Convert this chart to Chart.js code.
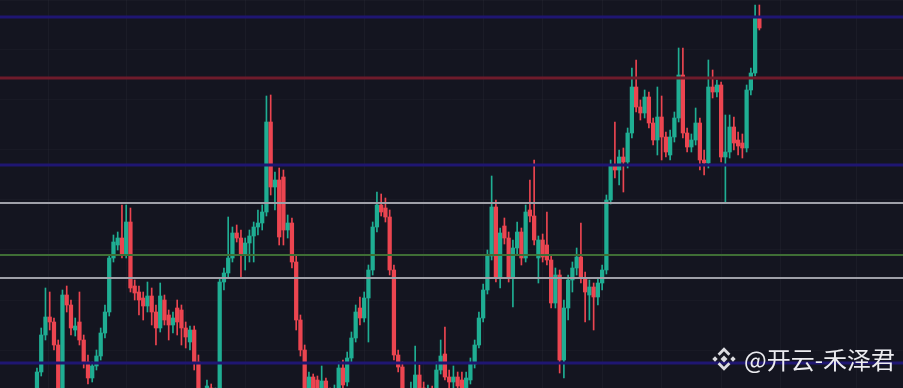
<!DOCTYPE html>
<html>
<head>
<meta charset="utf-8">
<script src="https://cdn.jsdelivr.net/npm/chart.js@4.4.1/dist/chart.umd.min.js"></script>
<style>
  html, body { margin: 0; padding: 0; background: #141520; }
  #wrap { position: relative; width: 903px; height: 388px; overflow: hidden; }
  #mark { position: absolute; left: 710px; top: 345px; display: flex; align-items: center;
          color: #ececf0; font-family: "Noto Sans CJK SC", "Noto Sans", sans-serif; font-size: 24px; line-height: 28px; }
  #mark svg { width: 28px; height: 28px; margin-right: 6px; }
</style>
</head>
<body>
<div id="wrap">
  <canvas id="chart" width="903" height="388"></canvas>
  <div id="mark">
    <svg viewBox="0 0 24 24"><g fill="#dcdce0">
      <polygon points="12,9 15,12 12,15 9,12"/>
      <polygon points="12,2 17.5,7.5 15.8,9.2 12,5.4 8.2,9.2 6.5,7.5"/>
      <polygon points="12,22 17.5,16.5 15.8,14.8 12,18.6 8.2,14.8 6.5,16.5"/>
      <polygon points="2,12 4.3,9.7 6.6,12 4.3,14.3"/>
      <polygon points="22,12 19.7,9.7 17.4,12 19.7,14.3"/>
    </g></svg>
    <span>@开云-禾泽君</span>
  </div>
</div>
<script>
// ---------- candle data (price units, oldest first) ----------
const open = [
  5,28,65,83,78,55,10,105,95,70,
  78,60,38,22,34,44,67,88,142,155,
  162,145,178,114,108,102,94,104,88,72,
  100,85,75,92,90,72,58,70,38,5,
  -5,12,0,2,118,127,142,167,162,145,
  157,164,173,177,188,278,213,220,223,170,
  177,138,80,50,2,23,20,4,19,8,
  -5,8,32,18,42,62,92,82,102,130,
  173,195,192,183,130,45,33,5,-2,10,
  25,12,0,10,8,30,46,23,18,23,
  20,12,20,36,55,82,110,144,193,123,
  174,162,123,152,168,142,190,184,142,160,
  155,140,97,125,40,92,120,132,143,122,
  105,113,103,117,130,200,234,230,243,238,
  267,313,293,287,303,277,260,283,263,245,
  263,282,325,267,253,260,277,240,237,313,
  308,315,243,248,273,260,257,252,310,327,382
];
const high = [
  32,72,112,108,82,60,110,114,100,82,
  108,65,45,38,50,72,95,145,165,168,
  195,195,192,120,114,108,118,112,95,117,
  105,90,88,100,95,78,74,74,45,10,
  20,16,12,122,132,183,173,175,170,162,
  170,178,190,195,304,305,228,232,230,185,
  182,145,85,55,28,26,24,34,22,12,
  15,38,40,48,68,95,103,108,135,178,
  208,206,202,190,135,50,38,10,18,54,
  35,18,15,14,38,60,73,30,34,28,
  28,28,42,60,88,116,150,224,200,172,
  182,168,160,178,172,195,220,240,164,166,
  188,145,132,130,100,125,138,152,177,128,
  120,117,122,135,205,240,278,250,252,272,
  332,340,300,310,308,282,313,304,268,270,
  288,352,352,272,266,292,282,250,340,330,
  320,318,285,285,283,268,266,315,332,395,395
];
const low = [
  0,24,60,70,50,2,8,88,65,64,
  55,32,16,18,30,40,62,84,138,150,
  142,142,108,100,85,80,88,75,55,68,
  75,60,67,65,55,52,50,30,0,-18,
  -10,-5,-8,0,110,122,138,158,123,130,
  138,138,165,170,184,205,190,155,155,162,
  132,70,44,2,-5,2,-2,-2,0,-15,
  -10,4,10,14,38,58,75,78,58,125,
  168,184,178,125,40,28,-2,-12,-10,5,
  2,-8,-6,-10,2,26,20,8,12,8,
  2,5,16,32,52,78,106,140,118,112,
  156,118,93,146,135,138,178,155,117,138,
  135,92,92,27,22,80,108,125,117,78,
  80,70,95,110,126,196,222,215,208,232,
  262,288,280,282,272,255,245,240,243,240,
  258,278,262,248,248,255,230,225,232,302,
  303,238,197,242,250,245,242,248,305,324,370
];
const close = [
  28,65,83,78,55,8,105,95,72,74,
  60,38,22,34,44,67,88,142,158,162,
  145,178,112,107,100,94,104,88,72,104,
  80,75,82,78,72,63,70,38,5,-10,
  14,0,8,118,127,142,167,162,145,157,
  164,173,177,188,278,213,220,163,170,177,
  138,80,50,8,23,8,4,19,5,-10,
  8,32,15,42,62,88,82,102,130,173,
  195,188,183,130,45,33,5,-5,10,25,
  8,0,10,-2,30,44,23,18,23,14,
  12,22,36,55,82,110,144,193,123,167,
  162,123,152,168,142,188,184,160,160,143,
  140,97,125,40,92,120,132,143,122,108,
  113,103,117,130,200,234,230,243,238,267,
  313,293,287,303,277,260,283,263,248,263,
  282,325,267,253,260,277,240,237,313,308,
  315,243,248,273,257,254,252,310,327,382,372
];

// horizontal drawing levels
const blueLevels = [383, 235, 37];
const redLevels = [322];
const greyLevels = [197, 122];
const greenLevels = [145];

const X_MIN = -8.7, X_MAX = 203.8;
const UP = "#1fae93", DOWN = "#ec4550";

const colors = open.map((o, i) => (close[i] >= o ? UP : DOWN));

const wickData = open.map((o, i) => ({ x: i, y: [low[i], high[i]] }));
const bodyData = open.map((o, i) => ({ x: i, y: [o, close[i]] }));

function levelLines(levels, color, width) {
  return levels.map(v => ({
    type: "line",
    data: [{ x: X_MIN, y: v }, { x: X_MAX, y: v }],
    borderColor: color,
    borderWidth: width,
    pointRadius: 0,
    order: 0
  }));
}

new Chart(document.getElementById("chart"), {
  type: "bar",
  data: {
    datasets: [
      ...levelLines(blueLevels, "#1f1672", 3),
      ...levelLines(redLevels, "#6e1b2b", 3),
      ...levelLines(greyLevels, "#9fa0a8", 2),
      ...levelLines(greenLevels, "#3f6e35", 2),
      { data: bodyData, backgroundColor: colors, barThickness: 3.6, minBarLength: 1, grouped: false, order: 1 },
      { data: wickData, backgroundColor: colors, barThickness: 1, grouped: false, order: 2 }
    ]
  },
  options: {
    responsive: false,
    animation: false,
    layout: { padding: 0 },
    plugins: { legend: { display: false }, tooltip: { enabled: false } },
    scales: {
      x: {
        type: "linear", min: X_MIN, max: X_MAX, offset: false,
        ticks: { display: false, stepSize: 14 },
        grid: { color: "rgba(255,255,255,0.03)", drawTicks: false },
        border: { display: false }
      },
      y: {
        min: 12, max: 400,
        ticks: { display: false, stepSize: 50 },
        grid: { color: "rgba(255,255,255,0.025)", drawTicks: false },
        border: { display: false }
      }
    }
  }
});
</script>
</body>
</html>
